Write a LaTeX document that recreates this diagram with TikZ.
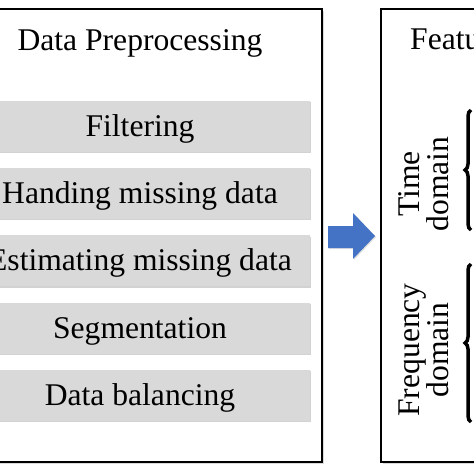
\documentclass[tikz,border=0pt]{standalone}
\usepackage{fontspec}
\setmainfont{Liberation Serif}
\usetikzlibrary{positioning,shadows,decorations.pathreplacing}
\definecolor{stagegray}{HTML}{D9D9D9}
\definecolor{arrowblue}{HTML}{4472C4}

\begin{document}
\begin{tikzpicture}[x=1pt,y=-1pt,
    big/.style={font=\fontsize{31.6}{29}\selectfont, inner sep=0pt},
    panel/.style={draw=black, line width=1.6pt, fill=white,
        drop shadow={shadow xshift=1.5pt, shadow yshift=-1.5pt, opacity=0.3}},
    stage/.style={big, fill=stagegray, minimum width=340pt, minimum height=51pt,
        text height=24pt, text depth=4pt,
        drop shadow={shadow xshift=1pt, shadow yshift=-1.2pt, opacity=0.35}},
    node distance=16pt]
    \useasboundingbox (0,0) rectangle (474,474);
    \clip (0,0) rectangle (474,474);
    \node (prep) [panel, minimum width=367pt, minimum height=453pt] at (138.5,235.5) {};
    \node (feat) [panel, minimum width=220pt, minimum height=453pt] at (491,235.5) {};
    \node (preptitle) [big, anchor=base] at (140,50) {Data Preprocessing};
    \node (feattitle) [big, anchor=base west] at (410,49) {Feature extraction};
    % preprocessing steps
    \node (filt) [stage] at (140,126) {Filtering};
    \node (hand) [stage, below=of filt] {Handing missing data};
    \node (est) [stage, below=of hand] {Estimating missing data};
    \node (seg) [stage, below=of est] {Segmentation};
    \node (bal) [stage, below=of seg] {Data balancing};
    % block arrow
    \fill [arrowblue, drop shadow={shadow xshift=1pt, shadow yshift=-1pt, opacity=0.25}]
        (328,226) -- (353,226) -- (353,213) -- (375,236) -- (353,259) -- (353,248) -- (328,248) -- cycle;
    % domains
    \node (time) [big, rotate=90, align=center] at (424,184) {Time\\domain};
    \node (freq) [big, rotate=90, align=center] at (424,350) {Frequency\\domain};
    \coordinate (time_lo) at (471,230);
    \coordinate (time_hi) at (471,110);
    \coordinate (freq_lo) at (471,422);
    \coordinate (freq_hi) at (471,264);
    \draw [decorate, decoration={brace, amplitude=6pt}, line width=3.5pt] (time_lo) to (time_hi);
    \draw [decorate, decoration={brace, amplitude=6pt}, line width=3.5pt] (freq_lo) to (freq_hi);
\end{tikzpicture}
\end{document}
